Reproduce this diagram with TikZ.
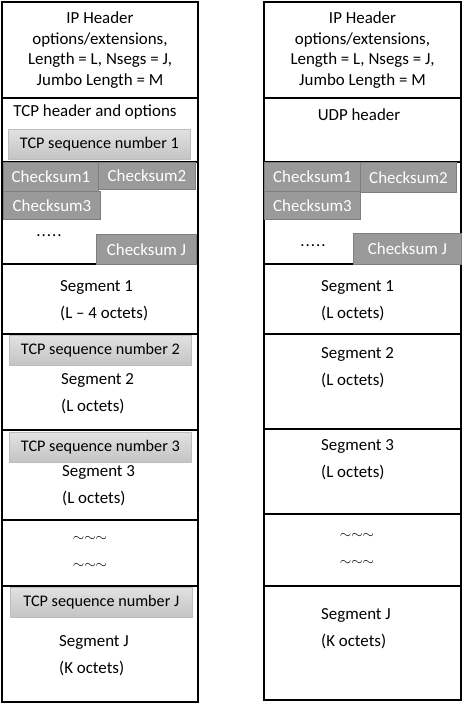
\documentclass[tikz,border=0pt]{standalone}
\usepackage{fontspec}
\setmainfont{Carlito}
\usepackage{tikz}
\usetikzlibrary{positioning}
\definecolor{ckgray}{HTML}{9A9A9A}
\definecolor{ckedge}{HTML}{7F7F7F}
\definecolor{seqtop}{HTML}{E2E2E2}
\definecolor{seqbot}{HTML}{C4C4C4}
\definecolor{seqedge}{HTML}{BDBDBD}
\newcommand{\pktfont}{\fontsize{16.9}{20.5}\selectfont}
\newcommand{\seqfont}{\fontsize{16.2}{20}\selectfont}
\newcommand{\segfont}{\fontsize{16.9}{27}\selectfont}
\newcommand{\wavy}{\scalebox{0.85}[0.8]{$\sim\sim\sim$}}
\tikzset{
  rowbox/.style={draw=black,line width=1.7pt,anchor=north west,inner sep=0pt,
    outer sep=0pt,align=center,font=\pktfont,minimum width=196pt},
  ckbox/.style={draw=ckedge,fill=ckgray,line width=1pt,anchor=north west,
    inner sep=0pt,text=white,font=\pktfont},
  seqbox/.style={draw=seqedge,top color=seqtop,bottom color=seqbot,line width=0.8pt,
    anchor=north west,inner sep=0pt,font=\seqfont,minimum width=182pt,minimum height=30pt},
  rowtext/.style={font=\pktfont,align=center},
  segtext/.style={font=\segfont,align=left,anchor=west,inner sep=0pt}
}

\begin{document}
\begin{tikzpicture}[x=1pt,y=-1pt]
  \useasboundingbox (0,0) rectangle (464,704);

  % TCP column
  \node[rowbox,minimum height=96pt] (ipL) at (2,2) {IP Header\\options/extensions,\\Length = L, Nsegs = J,\\Jumbo Length = M};
  \node[rowbox,minimum height=64pt] (tcpL) at (2,98) {};
  \node[rowbox,minimum height=102pt] (ckL) at (2,162) {};
  \node[rowbox,minimum height=70pt] (sonel) at (2,264) {};
  \node[rowbox,minimum height=96pt] (stwol) at (2,334) {};
  \node[rowbox,minimum height=90pt] (sthreel) at (2,430) {};
  \node[rowbox,minimum height=66pt] (tildel) at (2,520) {};
  \node[rowbox,minimum height=116pt] (sjl) at (2,586) {};

  \node[rowtext] (tcphdr) at (95,112) {TCP header and options};
  \node[seqbox] (seqone) at (8,129) {TCP sequence number 1};
  \node[ckbox,minimum width=95pt,minimum height=29pt] (ckonel) at (3,162) {Checksum1};
  \node[ckbox,minimum width=97pt,minimum height=27pt] (cktwol) at (98,162) {Checksum2};
  \node[ckbox,minimum width=97pt,minimum height=28pt] (ckthreel) at (3,191) {Checksum3};
  \node[ckbox,minimum width=100pt,minimum height=30pt] (ckjl) at (96,234) {Checksum J};
  \node[rowtext] (dotsl) at (49,236) {.\kern1pt.\kern1pt.\kern1pt.\kern1pt.};

  \node[segtext] (txtonel) at (60,301) {Segment 1\\(L -- 4 octets)};
  \node[seqbox] (seqtwo) at (9,335) {TCP sequence number 2};
  \node[segtext] (txttwol) at (61,394) {Segment 2\\(L octets)};
  \node[seqbox] (seqthree) at (9,432) {TCP sequence number 3};
  \node[segtext] (txtthreel) at (62,486) {Segment 3\\(L octets)};
  \node[rowtext,font=\segfont] (wavel) at (90,552) {\wavy\\\wavy};
  \node[seqbox] (seqj) at (10,587) {TCP sequence number J};
  \node[segtext] (txtjl) at (59,656) {Segment J\\(K octets)};

  % UDP column
  \node[rowbox,minimum width=197pt,minimum height=96pt] (ipR) at (264,2) {IP Header\\options/extensions,\\Length = L, Nsegs = J,\\Jumbo Length = M};
  \node[rowbox,minimum width=197pt,minimum height=64pt] (udpR) at (264,98) {};
  \node[rowbox,minimum width=197pt,minimum height=102pt] (ckR) at (264,162) {};
  \node[rowbox,minimum width=197pt,minimum height=70pt] (soner) at (264,264) {};
  \node[rowbox,minimum width=197pt,minimum height=95pt] (stwor) at (264,334) {};
  \node[rowbox,minimum width=197pt,minimum height=85pt] (sthreer) at (264,429) {};
  \node[rowbox,minimum width=197pt,minimum height=72pt] (tilder) at (264,514) {};
  \node[rowbox,minimum width=197pt,minimum height=114pt] (sjr) at (264,586) {};

  \node[rowtext] (udphdr) at (359,115) {UDP header};
  \node[ckbox,minimum width=96pt,minimum height=29pt] (ckoner) at (264,162) {Checksum1};
  \node[ckbox,minimum width=96pt,minimum height=30pt] (cktwor) at (360,162) {Checksum2};
  \node[ckbox,minimum width=96pt,minimum height=28pt] (ckthreer) at (264,191) {Checksum3};
  \node[ckbox,minimum width=108pt,minimum height=31pt] (ckjr) at (353,233) {Checksum J};
  \node[rowtext] (dotsr) at (313,246) {.\kern1pt.\kern1pt.\kern1pt.\kern1pt.};

  \node[segtext] (txtoner) at (321,301) {Segment 1\\(L octets)};
  \node[segtext] (txttwor) at (321,368) {Segment 2\\(L octets)};
  \node[segtext] (txtthreer) at (321,460) {Segment 3\\(L octets)};
  \node[rowtext,font=\segfont] (waver) at (357,549) {\wavy\\\wavy};
  \node[segtext] (txtjr) at (321,629) {Segment J\\(K octets)};
\end{tikzpicture}
\end{document}
